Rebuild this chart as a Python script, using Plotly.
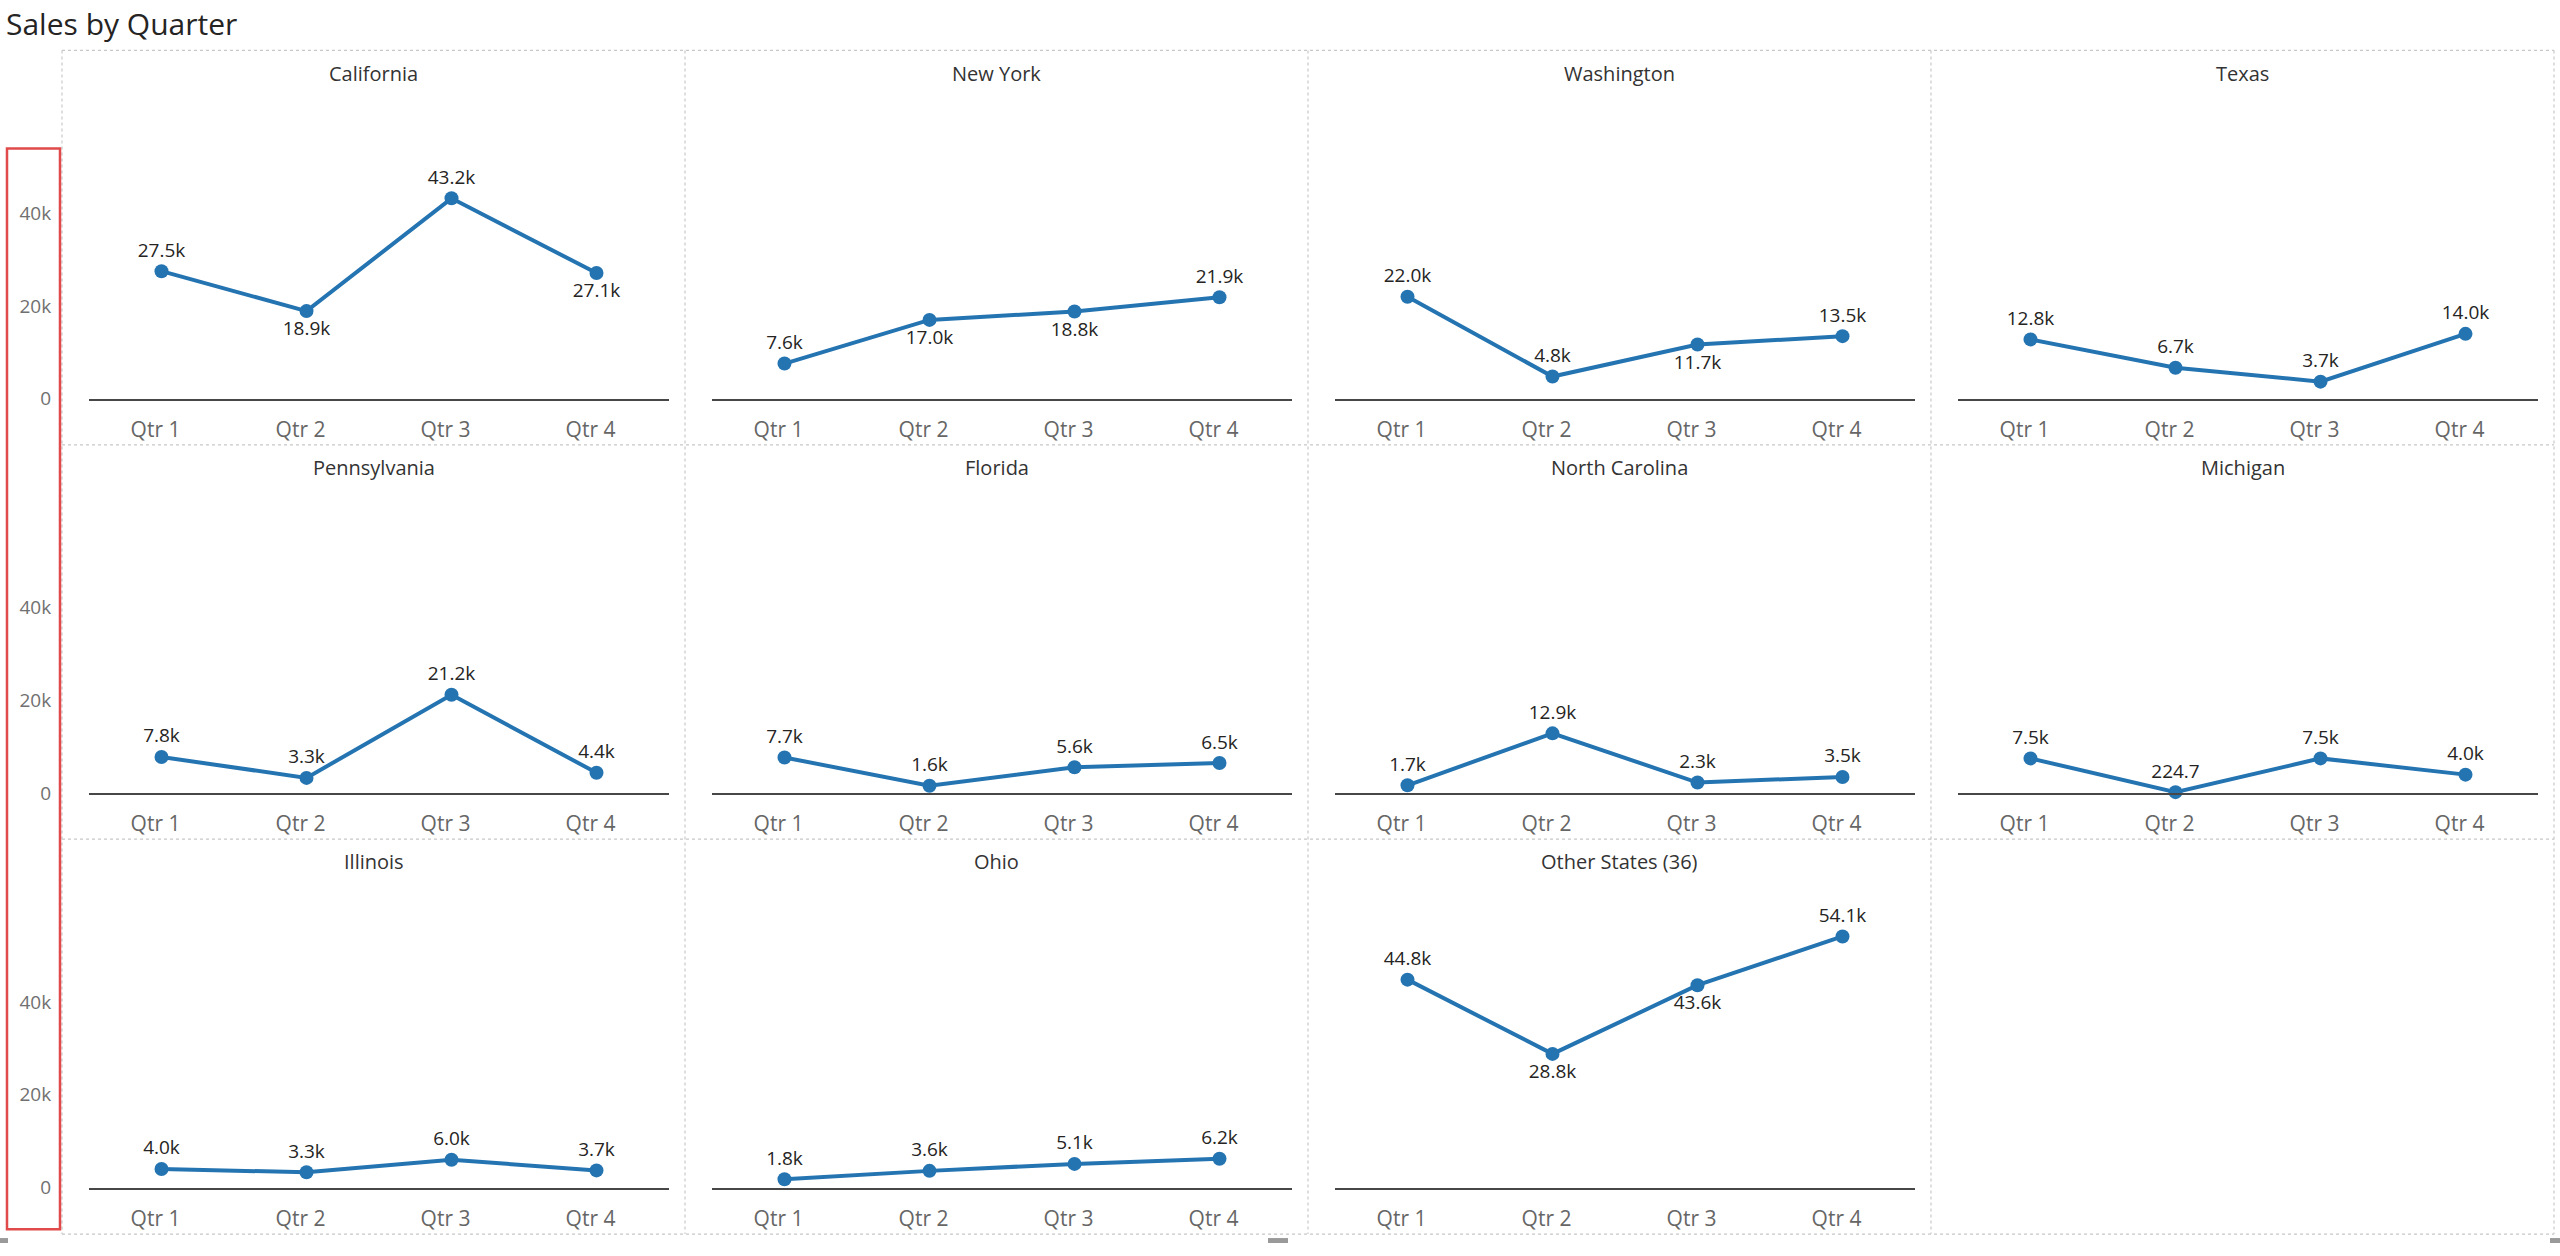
import plotly.graph_objects as go

# ---------------- data ----------------
quarters = ["Qtr 1", "Qtr 2", "Qtr 3", "Qtr 4"]
states = ["California", "New York", "Washington", "Texas",
          "Pennsylvania", "Florida", "North Carolina", "Michigan",
          "Illinois", "Ohio", "Other States (36)"]

california = [27500, 18900, 43200, 27100]
new_york = [7600, 17000, 18800, 21900]
washington = [22000, 4800, 11700, 13500]
texas = [12800, 6700, 3700, 14000]
pennsylvania = [7800, 3300, 21200, 4400]
florida = [7700, 1600, 5600, 6500]
north_carolina = [1700, 12900, 2300, 3500]
michigan = [7500, 224.7, 7500, 4000]
illinois = [4000, 3300, 6000, 3700]
ohio = [1800, 3600, 5100, 6200]
other_states = [44800, 28800, 43600, 54100]

series = [california, new_york, washington, texas, pennsylvania, florida,
          north_carolina, michigan, illinois, ohio, other_states]

y_tick_vals = [0, 20000, 40000]
y_tick_text = ["0", "20k", "40k"]

# label placement (style)
T, B = "top center", "bottom center"
label_pos = [
    [T, B, T, B], [T, B, B, T], [T, T, B, T], [T, T, T, T],
    [T, T, T, T], [T, T, T, T], [T, T, T, T], [T, T, T, T],
    [T, T, T, T], [T, T, T, T], [T, B, B, T],
]


def fmt(v):
    return f"{v/1000:.1f}k" if v >= 1000 else f"{v:.1f}"


# ---------------- layout geometry (pixels of a 2560x1256 canvas) ----------------
W, H = 2560, 1256
COL_W = 623
GRID_L = 62
ROW_TOPS = [51, 449.5, 848]
GRID_B = 1247
BASE_OFF = 352
PLOT_H = 281.4
Y_MAX = 60000

FONT = "Segoe UI, Open Sans, Noto Sans, sans-serif"
LINE_BLUE = "#2574B2"

fig = go.Figure()
annotations = []
shapes = []

for i, (name, vals) in enumerate(zip(states, series)):
    r, c = divmod(i, 4)
    x0 = GRID_L + 27 + COL_W * c
    x1 = GRID_L + 607 + COL_W * c
    base = ROW_TOPS[r] + BASE_OFF
    top = base - PLOT_H
    ax = "" if i == 0 else str(i + 1)

    fig.add_trace(go.Scatter(
        x=quarters, y=vals,
        mode="lines+markers+text",
        text=[fmt(v) for v in vals],
        textposition=label_pos[i],
        textfont=dict(size=19, color="#252423", family=FONT),
        line=dict(color=LINE_BLUE, width=4),
        marker=dict(color=LINE_BLUE, size=14),
        cliponaxis=False,
        showlegend=False,
        hoverinfo="skip",
        xaxis="x" + ax, yaxis="y" + ax,
    ))

    fig.layout["xaxis" + ax] = dict(
        domain=[x0 / W, x1 / W],
        anchor="y" + ax,
        type="category",
        range=[-0.5, 3.5],
        showgrid=False, zeroline=False,
        showline=True, linecolor="#474747", linewidth=2,
        ticks="outside", ticklen=11, tickcolor="rgba(0,0,0,0)",
        tickfont=dict(size=21, color="#666666", family=FONT),
        ticklabelshift=-6,
        fixedrange=True,
    )
    fig.layout["yaxis" + ax] = dict(
        domain=[1 - base / H, 1 - top / H],
        anchor="x" + ax,
        range=[0, Y_MAX],
        showgrid=False, zeroline=False, showline=False,
        tickvals=y_tick_vals, ticktext=y_tick_text,
        showticklabels=(c == 0),
        ticks="outside", ticklen=33, tickcolor="rgba(0,0,0,0)",
        tickfont=dict(size=19, color="#707070", family=FONT),
        fixedrange=True,
    )

    annotations.append(dict(
        x=(GRID_L + COL_W * c + COL_W / 2) / W,
        y=1 - (ROW_TOPS[r] + 23) / H,
        xref="paper", yref="paper",
        text=name, showarrow=False,
        xanchor="center", yanchor="middle",
        font=dict(size=20, color="#333333", family=FONT),
    ))

# dotted panel borders
dot = dict(color="#c8c8c8", width=1.2, dash="dot")
for k in range(5):
    xp = (GRID_L + COL_W * k) / W
    shapes.append(dict(type="line", xref="paper", yref="paper",
                       x0=xp, x1=xp, y0=1 - ROW_TOPS[0] / H, y1=1 - GRID_B / H,
                       line=dot))
for yp in ROW_TOPS + [GRID_B]:
    shapes.append(dict(type="line", xref="paper", yref="paper",
                       x0=GRID_L / W, x1=(GRID_L + 4 * COL_W) / W,
                       y0=1 - yp / H, y1=1 - yp / H, line=dot))

# red highlight box around the shared y axis
shapes.append(dict(type="rect", xref="paper", yref="paper",
                   x0=7 / W, x1=60 / W, y0=1 - 150 / H, y1=1 - 1242 / H,
                   line=dict(color="#E04A4A", width=2.5),
                   fillcolor="rgba(0,0,0,0)"))

# small resize handles at the bottom edge
for hx0, hx1 in [(0, 8), (1268, 1288), (2550, 2560)]:
    shapes.append(dict(type="rect", xref="paper", yref="paper",
                       x0=hx0 / W, x1=hx1 / W, y0=0, y1=5 / H,
                       line=dict(width=0), fillcolor="#9a9a9a"))

# chart title
annotations.append(dict(
    x=4 / W, y=1 - 24 / H, xref="paper", yref="paper",
    text="Sales by Quarter", showarrow=False,
    xanchor="left", yanchor="middle",
    font=dict(size=30, color="#252423", family=FONT),
))

fig.update_layout(
    autosize=True,
    margin=dict(l=0, r=0, t=0, b=0),
    paper_bgcolor="white", plot_bgcolor="white",
    annotations=annotations, shapes=shapes,
    font=dict(family=FONT),
)

fig.write_html(
    "out.html",
    config={"displayModeBar": False, "responsive": True},
    default_width="100vw",
    default_height="100vh",
    post_script=(
        "document.documentElement.style.margin='0';"
        "document.documentElement.style.overflow='hidden';"
        "document.body.style.margin='0';"
        "document.body.style.overflow='hidden';"
        "Plotly.Plots.resize(document.getElementById('{plot_id}'));"
    ),
)
